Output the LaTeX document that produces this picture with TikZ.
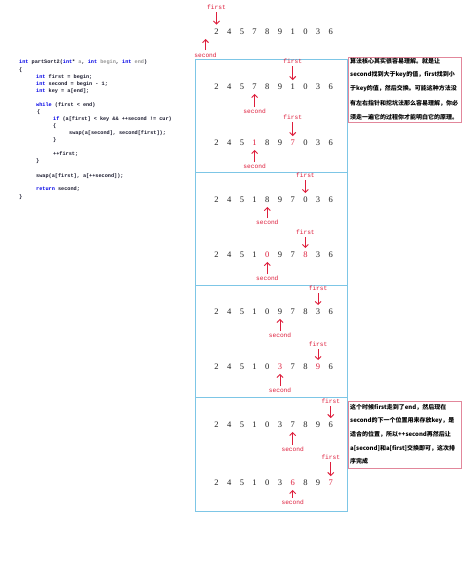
\documentclass[tikz,border=0pt]{standalone}
\usepackage{fontspec}
\setmainfont{Liberation Serif}
\newfontfamily\codefont{Liberation Mono}
\newfontfamily\cjkfont{Noto Sans CJK SC}
\usetikzlibrary{arrows.meta}
\definecolor{ptr}{RGB}{222,30,60}
\definecolor{boxblue}{RGB}{125,198,230}
\definecolor{notepink}{RGB}{226,135,155}
\definecolor{kwcol}{RGB}{0,0,230}
\definecolor{param}{RGB}{150,150,150}
\definecolor{codetxt}{RGB}{25,25,45}
\definecolor{digtxt}{RGB}{30,30,30}
\tikzset{
  digit/.style={font=\fontsize{8.5}{8.5}\selectfont, inner sep=1pt, text height=5.5pt, text depth=0pt},
  lbl/.style={text=ptr, font=\codefont\fontsize{6.2}{6.2}\selectfont, inner sep=0.5pt, text height=4pt, text depth=0.5pt},
  parr/.style={draw=ptr, line width=0.9pt, -{Straight Barb[length=3pt,width=6pt]}},
  firstarr/.style={parr, shorten <=1.5pt, shorten >=3pt},
  secondarr/.style={parr, shorten <=2pt, shorten >=3pt},
  code/.style={anchor=west, inner sep=0pt, text=codetxt, font=\codefont\bfseries\fontsize{5.2}{5.2}\selectfont},
  note/.style={anchor=west, inner sep=0pt, text=black, font=\cjkfont\bfseries\fontsize{6}{6}\selectfont},
  stagebox/.style={draw=boxblue, line width=1pt},
  notebox/.style={draw=notepink, line width=1pt, fill=white}
}
\newcommand{\drow}[3]{%
  \foreach \dval/\dclr [count=\dcol from 0] in {#3}
    \node[digit, text=\dclr] (#1-\dcol) at ({216.5+12.7*\dcol}, #2) {\dval};
}
\newcommand{\firstptr}[3]{%
  \node[lbl] (#1) at (#2 |- 0,#3) {first};
  \draw[firstarr] (#1) -- (#2);
}
\newcommand{\secondptr}[3]{%
  \node[lbl] (#1) at (#2 |- 0,#3) {second};
  \draw[secondarr] (#1) -- (#2);
}
\newcommand{\kwd}[1]{\textcolor{kwcol}{#1}}
\newcommand{\prm}[1]{\textcolor{param}{#1}}
\begin{document}
\begin{tikzpicture}[x=1pt,y=-1pt]
\useasboundingbox[fill=white] (0,0) rectangle (474,570);

% code
\node[code] (c1) at (19,62) {\kwd{int} partSort2(\kwd{int}* \prm{a}, \kwd{int} \prm{begin}, \kwd{int} \prm{end})};
\node[code] (c2) at (19,70) {\{};
\node[code] (c3) at (36,77) {\kwd{int} first = begin;};
\node[code] (c4) at (36,84) {\kwd{int} second = begin - 1;};
\node[code] (c5) at (36,91) {\kwd{int} key = a[end];};
\node[code] (c6) at (36,105) {\kwd{while} (first < end)};
\node[code] (c7) at (37,112) {\{};
\node[code] (c8) at (53,119) {\kwd{if} (a[first] < key \&\& ++second != cur)};
\node[code] (c9) at (53,126) {\{};
\node[code] (c10) at (69,133) {swap(a[second], second[first]);};
\node[code] (c11) at (53,140) {\}};
\node[code] (c12) at (53,154) {++first;};
\node[code] (c13) at (36,161) {\}};
\node[code] (c14) at (36,176) {swap(a[first], a[++second]);};
\node[code] (c15) at (36,189) {\kwd{return} second;};
\node[code] (c16) at (19,197) {\}};

% stage boxes
\draw[stagebox] (195,59) rectangle (347,172);
\draw[stagebox] (195,172) rectangle (347,285);
\draw[stagebox] (195,285) rectangle (347,397);
\draw[stagebox] (195,397) rectangle (347,511);

% initial row
\drow{r0}{31.5}{2/digtxt,4/digtxt,5/digtxt,7/digtxt,8/digtxt,9/digtxt,1/digtxt,0/digtxt,3/digtxt,6/digtxt}
\firstptr{f0}{r0-0}{8}
\coordinate (s0tip) at (205.5,39);
\node[lbl] (s0) at (205.5,56) {second};
\draw[parr, shorten <=3pt] (s0) -- (s0tip);

% box 1
\drow{r1}{87}{2/digtxt,4/digtxt,5/digtxt,7/digtxt,8/digtxt,9/digtxt,1/digtxt,0/digtxt,3/digtxt,6/digtxt}
\firstptr{f1}{r1-6}{62}
\secondptr{s1}{r1-3}{112}
\drow{r2}{143}{2/digtxt,4/digtxt,5/digtxt,1/ptr,8/digtxt,9/digtxt,7/ptr,0/digtxt,3/digtxt,6/digtxt}
\firstptr{f2}{r2-6}{118}
\secondptr{s2}{r2-3}{167}

% box 2
\drow{r3}{200}{2/digtxt,4/digtxt,5/digtxt,1/digtxt,8/digtxt,9/digtxt,7/digtxt,0/digtxt,3/digtxt,6/digtxt}
\firstptr{f3}{r3-7}{176}
\secondptr{s3}{r3-4}{223}
\drow{r4}{255}{2/digtxt,4/digtxt,5/digtxt,1/digtxt,0/ptr,9/digtxt,7/digtxt,8/ptr,3/digtxt,6/digtxt}
\firstptr{f4}{r4-7}{233}
\secondptr{s4}{r4-4}{279}

% box 3
\drow{r5}{312}{2/digtxt,4/digtxt,5/digtxt,1/digtxt,0/digtxt,9/digtxt,7/digtxt,8/digtxt,3/digtxt,6/digtxt}
\firstptr{f5}{r5-8}{289}
\secondptr{s5}{r5-5}{336}
\drow{r6}{367}{2/digtxt,4/digtxt,5/digtxt,1/digtxt,0/digtxt,3/ptr,7/digtxt,8/digtxt,9/ptr,6/digtxt}
\firstptr{f6}{r6-8}{345}
\secondptr{s6}{r6-5}{391}

% box 4
\drow{r7}{425}{2/digtxt,4/digtxt,5/digtxt,1/digtxt,0/digtxt,3/digtxt,7/digtxt,8/digtxt,9/digtxt,6/digtxt}
\firstptr{f7}{r7-9}{402}
\secondptr{s7}{r7-6}{450}
\drow{r8}{483}{2/digtxt,4/digtxt,5/digtxt,1/digtxt,0/digtxt,3/digtxt,6/ptr,8/digtxt,9/digtxt,7/ptr}
\firstptr{f8}{r8-9}{458}
\secondptr{s8}{r8-6}{503}

% notes
\draw[notebox] (348,57) rectangle (461,122);
\node[note] (n1a) at (350,61) {算法核心其实很容易理解。就是让};
\node[note] (n1b) at (350,75) {second找到大于key的值，first找到小};
\node[note] (n1c) at (350,89) {于key的值，然后交换。可能这种方法没};
\node[note] (n1d) at (350,103) {有左右指针和挖坑法那么容易理解，你必};
\node[note] (n1e) at (350,117) {须走一遍它的过程你才能明白它的原理。};

\draw[notebox] (348,401) rectangle (461,468);
\node[note] (n2a) at (350,407) {这个时候first走到了end，然后现在};
\node[note] (n2b) at (350,421) {second的下一个位置用来存放key，是};
\node[note] (n2c) at (350,434) {适合的位置，所以++second再然后让};
\node[note] (n2d) at (350,448) {a[second]和a[first]交换即可，这次排};
\node[note] (n2e) at (350,461) {序完成};
\end{tikzpicture}
\end{document}
